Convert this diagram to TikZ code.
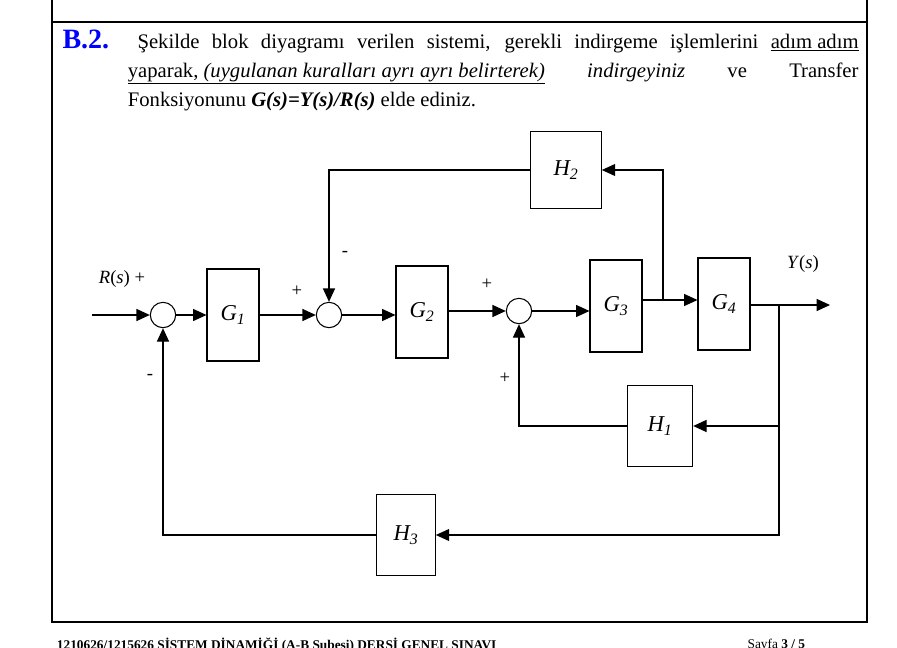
\documentclass[tikz,border=0pt]{standalone}
\usepackage{fontspec}
\setmainfont{Liberation Serif}
\usetikzlibrary{arrows.meta}
\begin{document}
\begin{tikzpicture}[x=0.75pt,y=-0.75pt,line width=0.8pt,
  blk/.style={draw,minimum width=39pt,minimum height=69pt,inner sep=0pt,font=\fontsize{17}{20}\selectfont\itshape},
  sm/.style={draw,circle,minimum size=19pt,inner sep=0pt},
  arr/.style={-{Triangle[length=10pt,width=9pt]}},
  lbl/.style={font=\fontsize{14}{16}\selectfont}]
\useasboundingbox (0,0) rectangle (897,647);
\draw[line width=1pt] (52,0) -- (52,622) -- (867,622) -- (867,0);
\draw[line width=1pt] (52,22) -- (867,22);
\node[anchor=north west,align=left,font=\fontsize{15.5}{22}\selectfont,inner sep=0pt] (txt) at (62,29)
 {\makebox[597pt][s]{\textcolor{blue}{\fontsize{21}{18}\selectfont\textbf{B.2.}} Şekilde blok diyagramı verilen sistemi, gerekli indirgeme işlemlerini \underline{adım adım}}\\
 \hspace*{49pt}\makebox[548pt][s]{\underline{yaparak, \textit{(uygulanan kuralları ayrı ayrı belirterek)}} \textit{indirgeyiniz} ve Transfer}\\
 \hspace*{49pt}Fonksiyonunu \textbf{\textit{G(s)=Y(s)/R(s)}} elde ediniz.};
\node[anchor=west,font=\fontsize{10}{12}\selectfont\bfseries] (ft) at (52,645) {1210626/1215626 SİSTEM DİNAMİĞİ (A-B Şubesi) DERSİ GENEL SINAVI};
\node[anchor=east,font=\fontsize{10}{12}\selectfont] (pg) at (810,645) {Sayfa \textbf{3 / 5}};
% blocks
\node[blk] (G1) at (233,315) {G\textsubscript{1}};
\node[blk] (G2) at (422,312) {G\textsubscript{2}};
\node[blk] (G3) at (616,306) {G\textsubscript{3}};
\node[blk] (G4) at (724,304) {G\textsubscript{4}};
\node[blk,minimum width=53pt,minimum height=58pt] (H2) at (566,170) {H\textsubscript{2}};
\node[blk,minimum width=49pt,minimum height=61pt] (H1) at (660,426) {H\textsubscript{1}};
\node[blk,minimum width=44pt,minimum height=61pt] (H3) at (406,535) {H\textsubscript{3}};
\node[sm] (S1) at (163,315) {};
\node[sm] (S2) at (329,315) {};
\node[sm] (S3) at (519,311) {};
\coordinate (in) at (92,315);
\coordinate (out) at (830,305);
\coordinate (b1) at (663,300);
\coordinate (b2) at (779,305);
% main path
\draw[arr] (in) -- (S1);
\draw[arr] (S1) -- (G1);
\draw[arr] (G1) -- (S2);
\draw[arr] (S2.east) -- (S2.east -| G2.west);
\draw[arr] (S3.west -| G2.east) -- (S3.west);
\draw[arr] (S3.east) -- (S3.east -| G3.west);
\draw[arr] (G3.east |- b1) -- (G4.west |- b1);
\draw[arr] (G4.east |- out) -- (out);
% H2 loop
\draw[arr] (b1) |- (H2.east);
\draw[arr] (H2.west) -| (S2.north);
% H1 loop
\draw[arr] (b2) |- (H1.east);
\draw[arr] (H1.west) -| (S3.south);
% H3 loop
\draw[arr] (b2) |- (H3.east);
\draw[arr] (H3.west) -| (S1.south);
% labels
\node[lbl] (lr) at (122,279) {\textit{R}(\textit{s}) +};
\node[lbl] (p2) at (297,291) {+};
\node[lbl] (m2) at (345,254) {-};
\node[lbl] (p3) at (487,284) {+};
\node[lbl] (p3b) at (505,378) {+};
\node[lbl] (m1) at (150,377) {-};
\node[lbl] (ly) at (803,264) {\textit{Y}(\textit{s})};
\end{tikzpicture}
\end{document}
